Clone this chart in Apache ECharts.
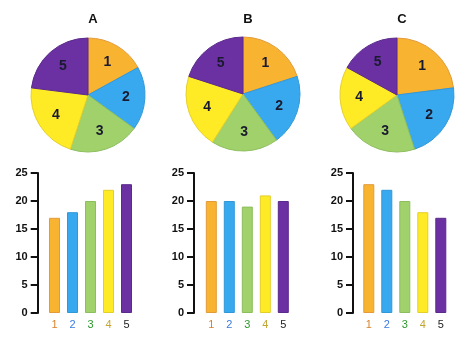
<!DOCTYPE html>
<html>
<head>
<meta charset="utf-8">
<script src="https://cdn.jsdelivr.net/npm/echarts@6/dist/echarts.min.js"></script>
<style>
  html, body { margin: 0; padding: 0; background: #fff; }
  #chart { width: 474px; height: 338px; }
</style>
</head>
<body>
<div id="chart"></div>
<script>
// Categories and per-panel values
const categories = ['1', '2', '3', '4', '5'];
const panelTitles = ['A', 'B', 'C'];
const valuesA = [17, 18, 20, 22, 23];
const valuesB = [20, 20, 19, 21, 20];
const valuesC = [23, 22, 20, 18, 17];
const yTicks = [0, 5, 10, 15, 20, 25];

const fillColors = ['#F8B431', '#39A9EF', '#A1D16A', '#FEEB25', '#6B31A2'];
const edgeColors = ['#E39B3A', '#3198D8', '#8DBE5E', '#E3CF2A', '#5A2A8C'];
const tickLabelColors = ['#D9822B', '#3B7BE0', '#2E9A2E', '#C4A532', '#222222'];

const panels = [valuesA, valuesB, valuesC];
const pieCenters = [[88, 95], [243, 94], [397, 95]];
const gridLefts = [45.5, 202.3, 359.8];
const axisOffsets = [7.8, 8.3, 6.8];
const fontFamily = '"Liberation Sans", Arial, sans-serif';

const title = panelTitles.map((t, i) => ({
  text: t,
  left: pieCenters[i][0],
  top: 8,
  textAlign: 'center',
  textStyle: { fontFamily, fontSize: 13, fontWeight: 'bold', color: '#111' }
}));

const grid = gridLefts.map(l => ({ left: l, width: 90, top: 173, height: 140 }));

const xAxis = gridLefts.map((_, i) => ({
  gridIndex: i,
  type: 'category',
  data: categories.map((c, k) => ({ value: c, textStyle: { color: tickLabelColors[k] } })),
  axisLine: { show: false },
  axisTick: { show: false },
  axisLabel: { fontFamily, fontSize: 11, margin: 6 }
}));

const yAxis = gridLefts.map((_, i) => ({
  gridIndex: i,
  type: 'value',
  min: yTicks[0],
  max: yTicks[yTicks.length - 1],
  interval: 5,
  offset: axisOffsets[i],
  splitLine: { show: false },
  axisLine: { show: true, lineStyle: { color: '#111', width: 2 } },
  axisTick: { show: true, length: 7, lineStyle: { color: '#111', width: 2 } },
  axisLabel: { fontFamily, fontSize: 11, fontWeight: 'bold', color: '#111', margin: 10 }
}));

const series = [];
panels.forEach((vals, i) => {
  // filled slices
  series.push({
    type: 'pie',
    center: pieCenters[i],
    radius: 57,
    startAngle: 90,
    clockwise: true,
    animation: false,
    data: vals.map((v, k) => ({
      value: v,
      name: categories[k],
      itemStyle: { color: fillColors[k], borderColor: edgeColors[k], borderWidth: 1 }
    })),
    label: { show: false },
    labelLine: { show: false },
    emphasis: { disabled: true }
  });
  // slice names, set a little further out than the default inside position
  series.push({
    type: 'pie',
    center: pieCenters[i],
    radius: [13, 57],
    startAngle: 90,
    clockwise: true,
    animation: false,
    silent: true,
    data: vals.map((v, k) => ({
      value: v,
      name: categories[k],
      itemStyle: { color: 'rgba(0,0,0,0)', borderWidth: 0 }
    })),
    label: {
      show: true,
      position: 'inside',
      formatter: '{b}',
      fontFamily,
      fontSize: 14,
      fontWeight: 'bold',
      color: '#1a1a2e'
    },
    labelLine: { show: false },
    emphasis: { disabled: true }
  });
  series.push({
    type: 'bar',
    xAxisIndex: i,
    yAxisIndex: i,
    barWidth: 11,
    animation: false,
    data: vals.map((v, k) => ({
      value: v,
      itemStyle: { color: fillColors[k], borderColor: edgeColors[k], borderWidth: 1 }
    }))
  });
});

const chart = echarts.init(document.getElementById('chart'), null, { renderer: 'canvas' });
chart.setOption({ animation: false, title, grid, xAxis, yAxis, series });
</script>
</body>
</html>
